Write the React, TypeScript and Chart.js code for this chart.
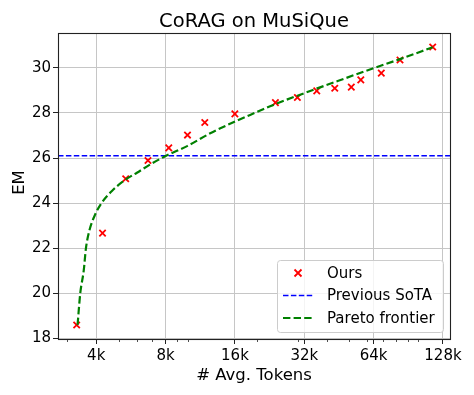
import React, { useEffect, useRef } from "react";
import { Chart, registerables } from "chart.js";

Chart.register(...registerables);

const TITLE = "CoRAG on MuSiQue";
const X_LABEL = "# Avg. Tokens";
const Y_LABEL = "EM";

const oursLabel = "Ours";
const sotaLabel = "Previous SoTA";
const paretoLabel = "Pareto frontier";

const oursTokens = [3290, 4260, 5370, 6710, 8260, 9960, 11840, 15990, 23980, 29870, 36250, 43400, 51200, 56300, 69100, 83300, 115500];
const oursEM = [18.59, 22.67, 25.08, 25.89, 26.45, 27.02, 27.58, 27.96, 28.46, 28.69, 28.98, 29.1, 29.15, 29.47, 29.77, 30.35, 30.93];

const paretoTokens = [3320, 3410, 3530, 3610, 3730, 3960, 4230, 4680, 5340, 6010, 6870, 8000, 9970, 12500, 16000, 20000, 24000, 32000, 45000, 64000, 83300, 115500];
const paretoEM = [18.6, 20.0, 21.0, 22.0, 22.76, 23.5, 24.02, 24.54, 25.03, 25.35, 25.72, 26.09, 26.54, 27.1, 27.62, 28.05, 28.4, 28.88, 29.43, 29.99, 30.39, 30.92];

const sotaEM = 26.1;

const xMin = 2730;
const xMax = 137300;
const yMin = 17.97;
const yMax = 31.55;

const xTicks = [4000, 8000, 16000, 32000, 64000, 128000];
const xMinorTicks = [3000, 5000, 6000, 7000, 9000, 10000, 20000, 30000, 40000, 50000, 60000, 70000, 80000, 90000, 100000];
const yTicks = [18, 20, 22, 24, 26, 28, 30];

const FONT = '"DejaVu Sans", "Liberation Sans", sans-serif';

const decorPlugin = {
  id: "decor",
  afterDraw(chart: any) {
    const { ctx, chartArea: a, scales } = chart;
    const xs = scales.x;
    ctx.save();
    // frame
    ctx.strokeStyle = "#222222";
    ctx.lineWidth = 1.1;
    ctx.strokeRect(a.left + 0.5, a.top + 0.5, a.right - a.left, a.bottom - a.top);
    // minor ticks
    ctx.lineWidth = 0.8;
    for (const v of xMinorTicks) {
      const px = Math.round(xs.getPixelForValue(v)) + 0.5;
      ctx.beginPath();
      ctx.moveTo(px, a.bottom);
      ctx.lineTo(px, a.bottom + 3);
      ctx.stroke();
    }
    // title & axis titles
    const cx = (a.left + a.right) / 2;
    ctx.fillStyle = "#000";
    ctx.textAlign = "center";
    ctx.textBaseline = "alphabetic";
    ctx.font = `19.5px ${FONT}`;
    ctx.fillText(TITLE, cx, a.top - 6);
    ctx.font = `16.5px ${FONT}`;
    ctx.fillText(X_LABEL, cx, a.bottom + 41);
    ctx.save();
    ctx.translate(23.5, (a.top + a.bottom) / 2 - 3.5);
    ctx.rotate(-Math.PI / 2);
    ctx.fillText(Y_LABEL, 0, 0);
    ctx.restore();

    // legend
    const bw = 166, bh = 72;
    const bx = a.right - 7 - bw;
    const by = a.bottom - 7 - bh;
    ctx.beginPath();
    ctx.roundRect(bx + 0.5, by + 0.5, bw, bh, 3);
    ctx.fillStyle = "rgba(255,255,255,0.8)";
    ctx.fill();
    ctx.strokeStyle = "#cccccc";
    ctx.lineWidth = 1;
    ctx.stroke();

    const ds = chart.data.datasets;
    const order = [0, 1, 2];
    ctx.font = `15px ${FONT}`;
    ctx.textAlign = "left";
    ctx.textBaseline = "middle";
    order.forEach((i, k) => {
      const d = ds[i];
      const ry = by + 13 + k * 22.5;
      const hx0 = bx + 6, hx1 = bx + 36;
      if (d.showLine) {
        ctx.save();
        ctx.strokeStyle = d.borderColor;
        ctx.lineWidth = d.borderWidth;
        ctx.setLineDash(d.borderDash || []);
        ctx.beginPath();
        ctx.moveTo(hx0, ry);
        ctx.lineTo(hx1, ry);
        ctx.stroke();
        ctx.restore();
      } else {
        const mx = (hx0 + hx1) / 2, r = 3.5;
        ctx.save();
        ctx.strokeStyle = d.borderColor;
        ctx.lineWidth = d.borderWidth;
        ctx.beginPath();
        ctx.moveTo(mx - r, ry - r);
        ctx.lineTo(mx + r, ry + r);
        ctx.moveTo(mx + r, ry - r);
        ctx.lineTo(mx - r, ry + r);
        ctx.stroke();
        ctx.restore();
      }
      ctx.fillStyle = "#000";
      ctx.fillText(d.label, bx + 50, ry + 1);
    });
    ctx.restore();
  },
};

export default function App() {
  const ref = useRef<HTMLCanvasElement | null>(null);

  useEffect(() => {
    if (!ref.current) return;
    Chart.defaults.font.family = FONT;
    const chart = new Chart(ref.current, {
      type: "scatter",
      data: {
        datasets: [
          {
            label: oursLabel,
            data: oursTokens.map((x, i) => ({ x, y: oursEM[i] })),
            pointStyle: "crossRot",
            pointRadius: 4.5,
            borderColor: "#ff0000",
            backgroundColor: "#ff0000",
            borderWidth: 1.8,
            showLine: false,
            order: 3,
          },
          {
            label: sotaLabel,
            data: [
              { x: xMin, y: sotaEM },
              { x: xMax, y: sotaEM },
            ],
            showLine: true,
            borderColor: "#0000ff",
            borderWidth: 1.6,
            borderDash: [5.5, 2.4],
            pointRadius: 0,
            order: 2,
          },
          {
            label: paretoLabel,
            data: paretoTokens.map((x, i) => ({ x, y: paretoEM[i] })),
            showLine: true,
            borderColor: "#008000",
            borderWidth: 2.2,
            borderDash: [7.4, 3.2],
            pointRadius: 0,
            cubicInterpolationMode: "monotone",
            order: 1,
          },
        ] as any,
      },
      options: {
        animation: false,
        responsive: false,
        devicePixelRatio: 1,
        layout: { padding: { top: 33, right: 24, left: 0, bottom: 0 } },
        plugins: {
          legend: { display: false },
          title: { display: false },
          tooltip: { enabled: false },
        },
        scales: {
          x: {
            type: "logarithmic",
            min: xMin,
            max: xMax,
            afterBuildTicks: (s: any) => {
              s.ticks = xTicks.map((v) => ({ value: v }));
            },
            afterFit: (s: any) => {
              s.height = 56;
            },
            grid: {
              color: "#c6c6c6",
              lineWidth: 1,
              tickColor: "#222222",
              tickLength: 5,
              tickWidth: 1,
            },
            border: { display: false },
            ticks: {
              color: "#000",
              font: { size: 15, family: FONT },
              padding: 3,
              autoSkip: false,
              maxRotation: 0,
              callback: (v: any) => `${Number(v) / 1000}k`,
            },
          },
          y: {
            type: "linear",
            min: yMin,
            max: yMax,
            afterBuildTicks: (s: any) => {
              s.ticks = yTicks.map((v) => ({ value: v }));
            },
            afterFit: (s: any) => {
              s.width = 58;
            },
            grid: {
              color: "#c6c6c6",
              lineWidth: 1,
              tickColor: "#222222",
              tickLength: 5,
              tickWidth: 1,
            },
            border: { display: false },
            ticks: {
              color: "#000",
              font: { size: 15, family: FONT },
              padding: 2,
              autoSkip: false,
              callback: (v: any) => `${v}`,
            },
          },
        },
      } as any,
      plugins: [decorPlugin],
    });
    return () => chart.destroy();
  }, []);

  return (
    <div style={{ position: "absolute", left: 0, top: 0, width: 474, height: 395, background: "#fff" }}>
      <canvas ref={ref} width={474} height={395} style={{ display: "block", width: 474, height: 395 }} />
    </div>
  );
}
